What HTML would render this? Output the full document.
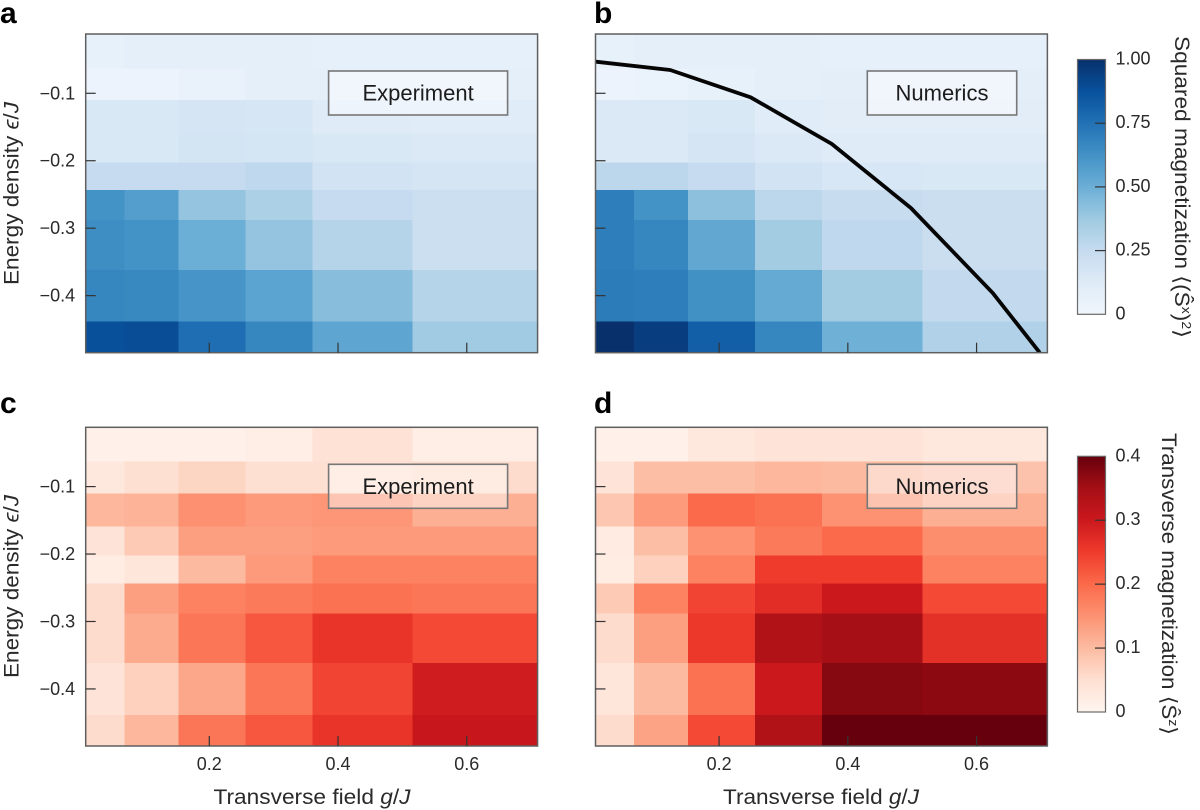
<!DOCTYPE html>
<html lang="en">
<head>
<meta charset="utf-8">
<title>Magnetization heatmaps</title>
<style>
html,body{margin:0;padding:0;background:#fff;width:1200px;height:810px;overflow:hidden}
svg{display:block;font-family:"Liberation Sans",sans-serif;fill:#222}
.tick{font-size:18px;fill:#2a2a2a}
.title{font-size:21px;fill:#2a2a2a}
.letter{font-size:30px;font-weight:bold;fill:#000}
.tag{font-size:22px;fill:#1c1c1c}
</style>
</head>
<body>
<svg id="fig" width="1200" height="810" viewBox="0 0 1200 810" xmlns="http://www.w3.org/2000/svg">
  <defs>
    <linearGradient id="grad-blues" x1="0" y1="1" x2="0" y2="0"></linearGradient>
    <linearGradient id="grad-reds" x1="0" y1="1" x2="0" y2="0"></linearGradient>
    <clipPath id="clip-b"><rect x="595.5" y="34" width="452.3" height="318.7"></rect></clipPath>
  </defs>

  <g id="panel-a"></g>
  <g id="panel-b"></g>
  <g id="panel-c"></g>
  <g id="panel-d"></g>
  <g id="cbar-blues"></g>
  <g id="cbar-reds"></g>

  <text class="letter" x="0" y="23">a</text>
  <text class="letter" x="594" y="23">b</text>
  <text class="letter" x="0" y="413">c</text>
  <text class="letter" x="594" y="413">d</text>

  <text class="title" transform="translate(18.5,285) rotate(-90)" textLength="183" lengthAdjust="spacingAndGlyphs">Energy density <tspan font-style="italic">ϵ</tspan>/<tspan font-style="italic">J</tspan></text>
  <text class="title" transform="translate(18.5,678) rotate(-90)" textLength="183" lengthAdjust="spacingAndGlyphs">Energy density <tspan font-style="italic">ϵ</tspan>/<tspan font-style="italic">J</tspan></text>
  <text class="title" x="213.5" y="804" textLength="197" lengthAdjust="spacingAndGlyphs">Transverse field <tspan font-style="italic">g</tspan>/<tspan font-style="italic">J</tspan></text>
  <text class="title" x="723" y="804" textLength="196" lengthAdjust="spacingAndGlyphs">Transverse field <tspan font-style="italic">g</tspan>/<tspan font-style="italic">J</tspan></text>

  <text class="title" transform="translate(1175,36) rotate(90)" textLength="302" lengthAdjust="spacingAndGlyphs">Squared magnetization ⟨(Ŝ<tspan font-size="13" dy="-7">x</tspan><tspan dy="7">)</tspan><tspan font-size="13" dy="-7">2</tspan><tspan dy="7">⟩</tspan></text>
  <text class="title" transform="translate(1162,433) rotate(90)" textLength="302" lengthAdjust="spacingAndGlyphs">Transverse magnetization ⟨Ŝ<tspan font-size="13" dy="-7">z</tspan><tspan dy="7">⟩</tspan></text>
</svg>

<script>
// Cell edges along each axis
const gEdges = [0.008, 0.068, 0.152, 0.256, 0.36, 0.516, 0.71];
const epsEdges = [-0.0121, -0.0629, -0.1099, -0.1593, -0.2023, -0.2434, -0.2878, -0.3619, -0.4386, -0.4846];

// Axis ticks
const gTicks = [0.2, 0.4, 0.6];
const gTickLabels = ['0.2', '0.4', '0.6'];
const epsTicks = [-0.1, -0.2, -0.3, -0.4];
const epsTickLabels = ['\u22120.1', '\u22120.2', '\u22120.3', '\u22120.4'];
const blueTicks = [0, 0.25, 0.5, 0.75, 1];
const blueTickLabels = ['0', '0.25', '0.50', '0.75', '1.00'];
const redTicks = [0, 0.1, 0.2, 0.3, 0.4];
const redTickLabels = ['0', '0.1', '0.2', '0.3', '0.4'];

// Squared magnetization, experiment (rows top to bottom)
const valuesA = [
  [.06, .075, .075, .075, .07, .07],
  [.03, .03, .05, .075, .08, .08],
  [.15, .15, .17, .165, .12, .11],
  [.15, .15, .18, .175, .15, .14],
  [.25, .25, .25, .27, .19, .17],
  [.62, .57, .40, .33, .25, .22],
  [.64, .62, .50, .40, .30, .22],
  [.67, .66, .61, .55, .43, .30],
  [.88, .89, .76, .67, .54, .37]
];
// Squared magnetization, numerics
const valuesB = [
  [.06, .08, .08, .08, .07, .07],
  [.03, .04, .06, .08, .09, .09],
  [.14, .14, .15, .11, .10, .10],
  [.14, .14, .17, .14, .12, .12],
  [.28, .28, .25, .19, .16, .15],
  [.70, .62, .42, .28, .24, .23],
  [.70, .67, .53, .36, .27, .23],
  [.71, .70, .63, .52, .36, .26],
  [1.0, .95, .82, .67, .49, .32]
];
// Transverse magnetization, experiment
const valuesC = [
  [.012, .012, .012, .016, .045, .016],
  [.030, .050, .065, .050, .050, .055],
  [.105, .110, .152, .140, .145, .115],
  [.040, .080, .135, .135, .140, .140],
  [.020, .035, .100, .140, .170, .170],
  [.055, .135, .170, .180, .190, .185],
  [.055, .120, .185, .220, .260, .235],
  [.040, .070, .125, .185, .240, .295],
  [.055, .105, .185, .220, .260, .305]
];
// Transverse magnetization, numerics
const valuesD = [
  [.012, .012, .030, .040, .040, .030],
  [.040, .095, .095, .105, .100, .090],
  [.085, .140, .200, .190, .150, .115],
  [.025, .095, .150, .180, .200, .155],
  [.020, .070, .170, .250, .250, .170],
  [.080, .170, .240, .270, .300, .235],
  [.055, .135, .255, .335, .350, .265],
  [.035, .100, .190, .300, .375, .370],
  [.055, .130, .235, .335, .400, .400]
];
// Ordering-boundary curve in panel b
const curveG = [0.0085, 0.124, 0.249, 0.375, 0.498, 0.625, 0.698];
const curveEps = [-0.0532, -0.0655, -0.106, -0.175, -0.27, -0.396, -0.4845];

// Colormap ramps
const bluesRamp = ['#f0f6fd', '#deebf7', '#c6dbef', '#9ecae1', '#6baed6', '#4292c6', '#2171b5', '#08519c', '#08306b'];
const redsRamp = ['#fff5f0', '#fee0d2', '#fcbba1', '#fc9272', '#fb6a4a', '#ef3b2c', '#cb181d', '#a50f15', '#67000d'];

const SVGNS = 'http://www.w3.org/2000/svg';
function mk(tag, attrs, parent) {
  const el = document.createElementNS(SVGNS, tag);
  for (const k in attrs) el.setAttribute(k, attrs[k]);
  parent.appendChild(el);
  return el;
}
function rampColor(ramp, t) {
  t = Math.max(0, Math.min(1, t));
  const p = t * (ramp.length - 1);
  const i = Math.min(ramp.length - 2, Math.floor(p));
  const f = p - i;
  const ch = (h, s) => parseInt(h.substr(s, 2), 16);
  const c = [1, 3, 5].map(s => Math.round(ch(ramp[i], s) + (ch(ramp[i + 1], s) - ch(ramp[i], s)) * f));
  return 'rgb(' + c.join(',') + ')';
}

function drawPanel(cfg) {
  const root = document.getElementById(cfg.id);
  const xOf = g => cfg.left + (g - gEdges[0]) * 643.7;
  const yOf = e => cfg.top + (epsEdges[0] - e) * 674.5;
  const x0 = xOf(gEdges[0]), x1 = xOf(gEdges[gEdges.length - 1]);
  const y0 = yOf(epsEdges[0]), y1 = yOf(epsEdges[epsEdges.length - 1]);

  cfg.values.forEach((row, r) => {
    row.forEach((v, c) => {
      const cell = mk('rect', {
        x: xOf(gEdges[c]),
        y: yOf(epsEdges[r]),
        width: xOf(gEdges[c + 1]) - xOf(gEdges[c]),
        height: yOf(epsEdges[r + 1]) - yOf(epsEdges[r]),
        fill: rampColor(cfg.ramp, v / cfg.vmax),
        'shape-rendering': 'crispEdges'
      }, root);
      
      
    });
  });

  if (cfg.curve) {
    const pts = curveG.map((g, i) => xOf(g).toFixed(1) + ',' + yOf(curveEps[i]).toFixed(1)).join(' ');
    const line = mk('polyline', {
      points: pts, fill: 'none', stroke: '#050505', 'stroke-width': 3.8,
      'stroke-linejoin': 'round', 'clip-path': 'url(#clip-b)'
    }, root);
    
    
  }

  const frame = mk('rect', {
    x: x0, y: y0, width: x1 - x0, height: y1 - y0, fill: 'none', stroke: '#5f5f5f', 'stroke-width': 1.5
  }, root);
  
  

  epsTicks.forEach((e, i) => {
    const t = mk('line', { x1: x0, x2: x0 + 10, y1: yOf(e), y2: yOf(e), stroke: '#333', 'stroke-width': 1.2 }, root);
    
    
    if (cfg.yLabels) {
      const l = mk('text', { x: x0 - 10.5, y: yOf(e) + 6, 'text-anchor': 'end', class: 'tick' }, root);
      l.textContent = epsTickLabels[i];
      
      
    }
  });
  gTicks.forEach((g, i) => {
    const t = mk('line', { x1: xOf(g), x2: xOf(g), y1: y1, y2: y1 - 10, stroke: '#333', 'stroke-width': 1.2 }, root);
    
    
    if (cfg.xLabels) {
      const l = mk('text', { x: xOf(g), y: y1 + 24, 'text-anchor': 'middle', class: 'tick' }, root);
      l.textContent = gTickLabels[i];
      
      
    }
  });

  const box = mk('rect', {
    x: cfg.tag.x, y: y0 + 37, width: cfg.tag.w, height: 44,
    fill: 'rgba(255,255,255,0.45)', stroke: '#777', 'stroke-width': 1.6
  }, root);
  
  
  const tag = mk('text', {
    x: cfg.tag.x + cfg.tag.w / 2, y: y0 + 66.5, 'text-anchor': 'middle', class: 'tag'
  }, root);
  tag.textContent = cfg.tag.text;
  
  
}

function drawColorbar(cfg) {
  const root = document.getElementById(cfg.id);
  const grad = document.getElementById(cfg.grad);
  cfg.ramp.forEach((c, i) => {
    mk('stop', { offset: i / (cfg.ramp.length - 1), 'stop-color': c }, grad);
  });
  const yOf = v => cfg.bottom - (v / cfg.vmax) * (cfg.bottom - cfg.top);
  const bar = mk('rect', {
    x: 1077.5, y: cfg.top, width: 28, height: cfg.bottom - cfg.top,
    fill: 'url(#' + cfg.grad + ')', stroke: '#6a6a6a', 'stroke-width': 1.2
  }, root);
  
  
  cfg.ticks.forEach((v, i) => {
    if (v > 0 && v < cfg.vmax) {
      const t = mk('line', { x1: 1105.5, x2: 1095, y1: yOf(v), y2: yOf(v), stroke: '#333', 'stroke-width': 1.2 }, root);
      
      
    }
    const l = mk('text', { x: 1115.5, y: yOf(v) + 5, class: 'tick' }, root);
    l.textContent = cfg.labels[i];
    
    
  });
}

drawPanel({ id: 'panel-a', left: 85.7, top: 34, values: valuesA, ramp: bluesRamp, vmax: 1, yLabels: true, xLabels: false, tag: { x: 328.6, w: 179, text: 'Experiment' } });
drawPanel({ id: 'panel-b', left: 595.5, top: 34, values: valuesB, ramp: bluesRamp, vmax: 1, yLabels: false, xLabels: false, curve: true, tag: { x: 867.3, w: 149.4, text: 'Numerics' } });
drawPanel({ id: 'panel-c', left: 85.7, top: 427.3, values: valuesC, ramp: redsRamp, vmax: 0.4, yLabels: true, xLabels: true, tag: { x: 328.6, w: 179, text: 'Experiment' } });
drawPanel({ id: 'panel-d', left: 595.5, top: 427.3, values: valuesD, ramp: redsRamp, vmax: 0.4, yLabels: false, xLabels: true, tag: { x: 867.3, w: 149.4, text: 'Numerics' } });
drawColorbar({ id: 'cbar-blues', grad: 'grad-blues', ramp: bluesRamp, top: 59.5, bottom: 314.3, vmax: 1, ticks: blueTicks, labels: blueTickLabels });
drawColorbar({ id: 'cbar-reds', grad: 'grad-reds', ramp: redsRamp, top: 456.3, bottom: 712, vmax: 0.4, ticks: redTicks, labels: redTickLabels });
</script>
</body>
</html>
